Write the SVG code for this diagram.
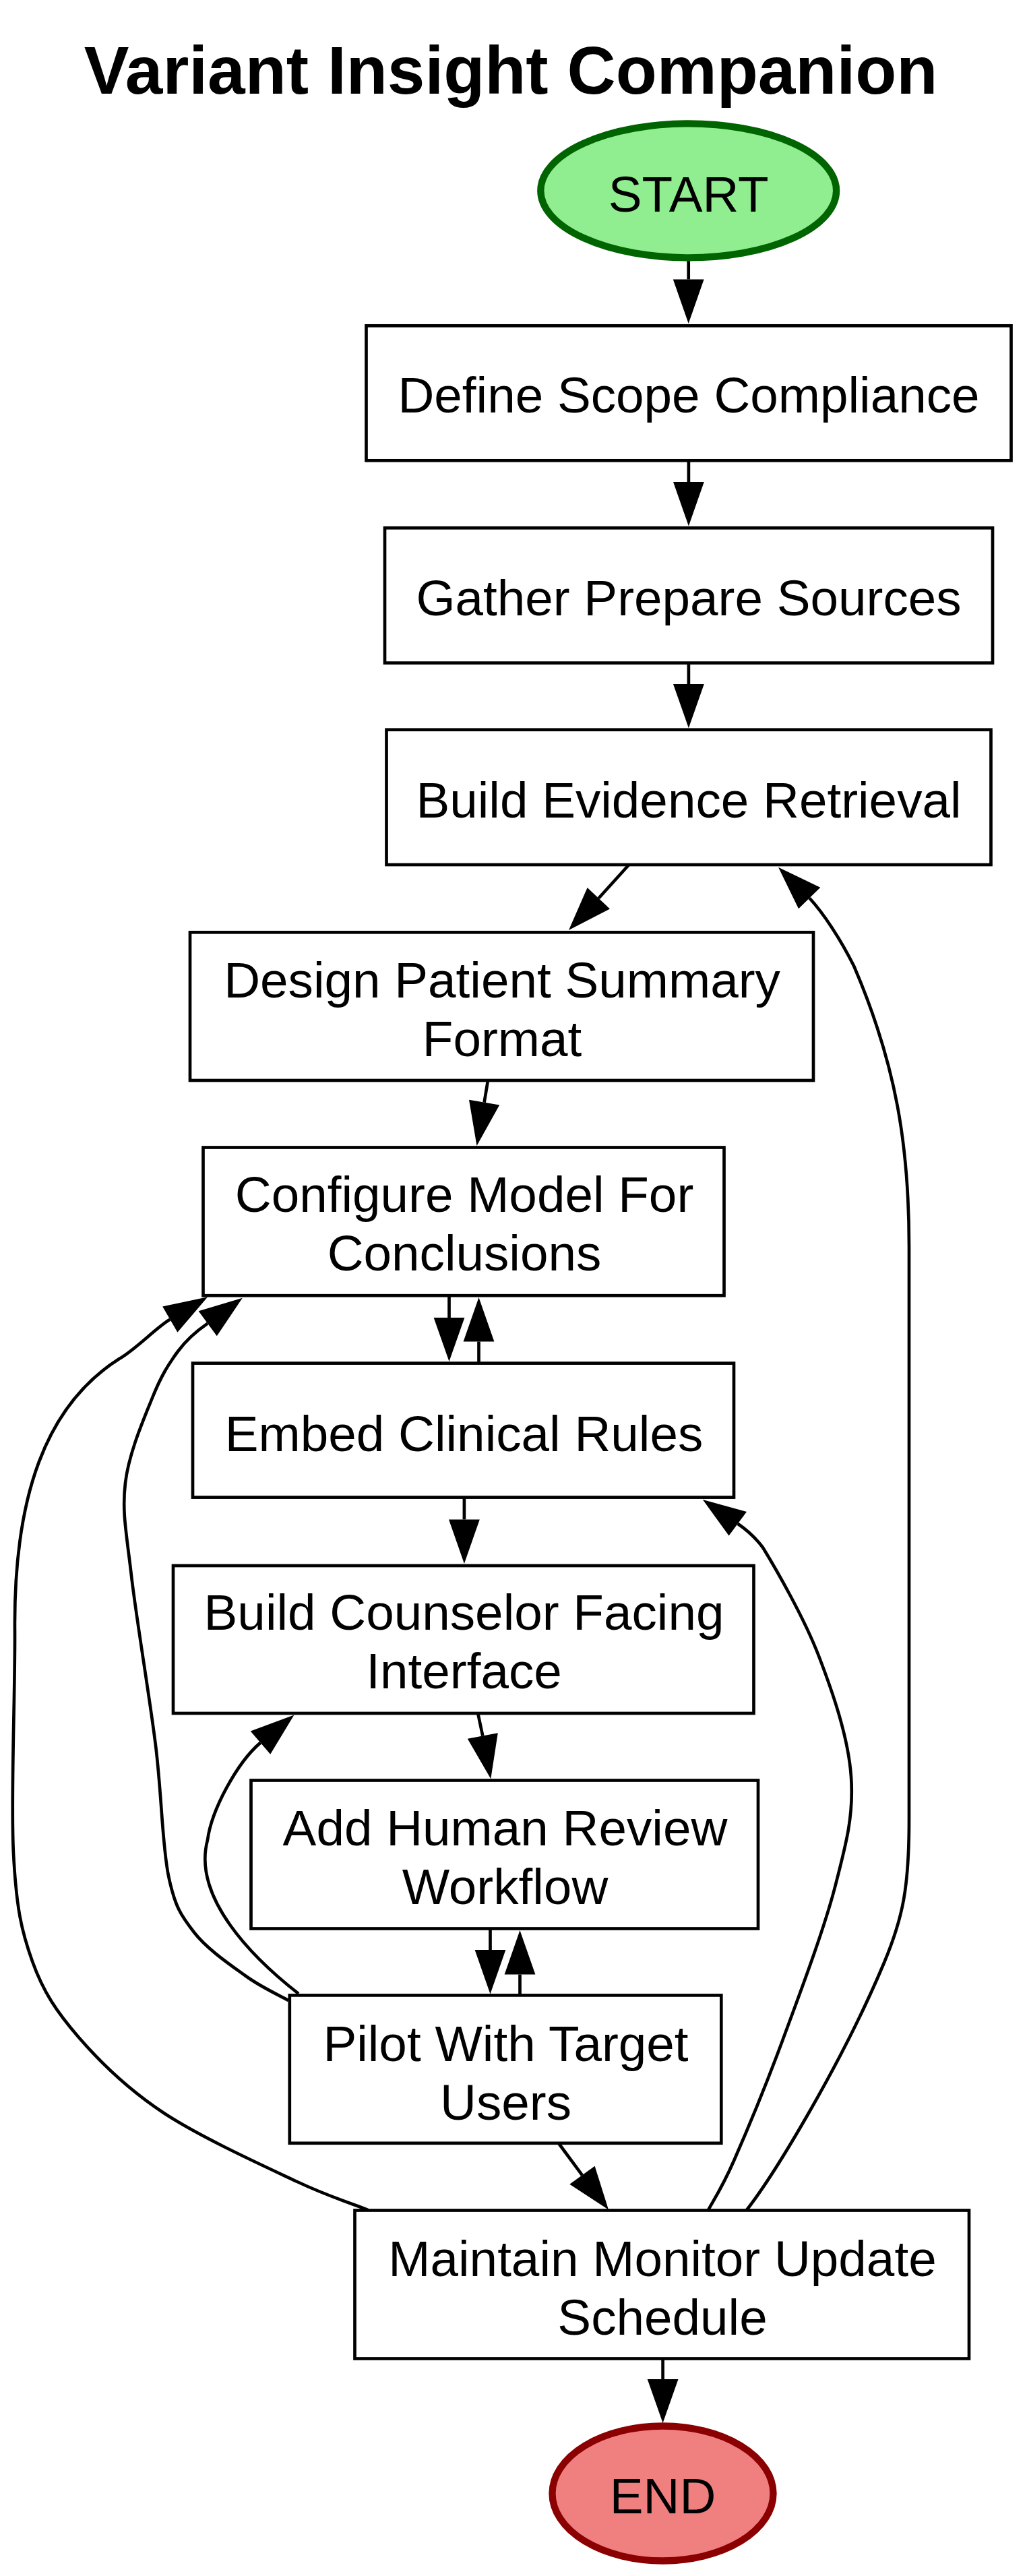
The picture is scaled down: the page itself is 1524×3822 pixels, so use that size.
<svg xmlns="http://www.w3.org/2000/svg" width="1524" height="3822" viewBox="0 0 1524 3822">
<style>
.box{fill:#ffffff;stroke:#000000;stroke-width:4.67}
.lbl{font-family:"Liberation Sans",Arial,sans-serif;font-size:74.67px;text-anchor:middle;fill:#000000}
.title{font-family:"Liberation Sans",Arial,sans-serif;font-size:100px;font-weight:bold;text-anchor:middle;fill:#000000}
.edge{fill:none;stroke:#000000;stroke-width:4.67}
.head{fill:#000000;stroke:none}
</style>
<rect x="0" y="0" width="1524" height="3822" fill="#ffffff"/>
<text class="title" x="758" y="139.3">Variant Insight Companion</text>

<g id="connectors">
  <path class="edge" d="M1021.7,382.4 V414.5"/>
  <polygon class="head" points="998.8,414.5 1044.6,414.5 1021.7,480"/>
  <path class="edge" d="M1021.9,683.3 V715"/>
  <polygon class="head" points="999,715 1044.8,715 1021.9,780.5"/>
  <path class="edge" d="M1021.9,983.6 V1015"/>
  <polygon class="head" points="999,1015 1044.8,1015 1021.9,1080.2"/>
  <path class="edge" d="M933.3,1283 L888.3,1332.8"/>
  <polygon class="head" points="871.6,1317.1 905,1348.5 844,1380"/>
  <path class="edge" d="M724,1603 L718.6,1635.6"/>
  <polygon class="head" points="696,1631.7 741.2,1639.5 707.5,1700"/>
  <path class="edge" d="M666.5,1922.2 V1955"/>
  <polygon class="head" points="643.6,1955 689.4,1955 666.5,2020"/>
  <path class="edge" d="M710.5,2022.6 V1990.5"/>
  <polygon class="head" points="687.6,1990.5 733.4,1990.5 710.5,1925"/>
  <path class="edge" d="M688.9,2221.6 V2254.5"/>
  <polygon class="head" points="666,2254.5 711.8,2254.5 688.9,2320"/>
  <path class="edge" d="M709.2,2542 L716.3,2575.5"/>
  <polygon class="head" points="693.8,2579.7 738.8,2571.3 728.3,2639.2"/>
  <path class="edge" d="M727.5,2861.5 V2893"/>
  <polygon class="head" points="704.6,2893 750.4,2893 727.5,2958.5"/>
  <path class="edge" d="M771.5,2960.4 V2929.5"/>
  <polygon class="head" points="748.6,2929.5 794.4,2929.5 771.5,2864"/>
  <path class="edge" d="M829,3180 L864,3227.3"/>
  <polygon class="head" points="845.3,3240.8 882.6,3213.8 903,3278.6"/>
  <path class="edge" d="M983.6,3499.5 V3530"/>
  <polygon class="head" points="960.7,3530 1006.5,3530 983.6,3595"/>
  <!-- Pilot -> Counselor -->
  <path class="edge" d="M443,2958 C375,2905 285,2815 308,2730 C314,2685 352,2615 386.5,2585.6"/>
  <polygon class="head" points="371.7,2568.4 401.2,2602.8 436.4,2544.6"/>
  <!-- Pilot -> Configure -->
  <path class="edge" d="M428,2968 C417.5,2962 388.3,2948.8 365,2932 C341.7,2915.2 307.2,2891.8 288,2867 C268.8,2842.2 259.5,2829.2 250,2783 C240.5,2736.8 240.2,2664.2 231,2590 C221.8,2515.8 202.5,2403 195,2338 C187.5,2273 180.8,2244 186,2200 C191.2,2156 213,2106.5 226,2074 C239,2041.5 250.3,2023.5 264,2005 C277.7,1986.5 291.9,1974.8 308,1963.7"/>
  <polygon class="head" points="294.6,1945.2 321.8,1982.2 359.8,1925.8"/>
  <!-- Maintain -> Configure -->
  <path class="edge" d="M546,3279 C528.5,3271.2 491.5,3260.8 441,3237 C390.5,3213.2 297,3170.7 243,3135 C189,3099.3 149.5,3060.5 117,3023 C84.5,2985.5 64.2,2955.5 48,2910 C31.8,2864.5 24.3,2831.7 20,2750 C15.7,2668.3 22.5,2520 22,2420 C20,2220 68,2085 177,2016 C201,2002.5 231.8,1969.7 252.3,1957.5"/>
  <polygon class="head" points="241.2,1938.4 263.4,1976.7 308.2,1924.3"/>
  <!-- Maintain -> Embed -->
  <path class="edge" d="M1051,3279 C1057.3,3266.8 1070.7,3247.8 1089,3206 C1107.3,3164.2 1136,3095.7 1161,3028 C1186,2960.3 1222,2865.3 1239,2800 C1256,2734.7 1267,2693.2 1263,2636 C1259,2578.8 1236.8,2513.7 1215,2457 C1193.2,2400.3 1152,2328.7 1132,2296 C1120,2280 1107,2269 1094.8,2260.7"/>
  <polygon class="head" points="1108,2242.9 1081.6,2278.6 1042.8,2225"/>
  <!-- Maintain -> Build Evidence -->
  <path class="edge" d="M1108,3279 C1150,3225 1250,3060 1312,2912 C1340,2845 1349,2800 1349,2700 L1349,1850 C1349,1700 1330,1580 1267,1433 C1247,1393 1222,1355 1201.2,1332.5"/>
  <polygon class="head" points="1185,1348.3 1217.3,1316.7 1155,1286.7"/>
</g>

<g id="start">
  <ellipse cx="1021.7" cy="282.9" rx="219.4" ry="99.5" fill="#90ee90" stroke="#006400" stroke-width="10.3"/>
  <text class="lbl" x="1021.7" y="313.6">START</text>
</g>
<g id="define_scope_compliance">
  <rect class="box" x="543.5" y="483.3" width="957" height="200"/>
  <text class="lbl" x="1022" y="611.5">Define Scope Compliance</text>
</g>
<g id="gather_prepare_sources">
  <rect class="box" x="571" y="783.3" width="902" height="200.3"/>
  <text class="lbl" x="1022" y="913">Gather Prepare Sources</text>
</g>
<g id="build_evidence_retrieval">
  <rect class="box" x="573.5" y="1082.7" width="897" height="200.3"/>
  <text class="lbl" x="1022" y="1212.5">Build Evidence Retrieval</text>
</g>
<g id="design_patient_summary_format">
  <rect class="box" x="282" y="1383.3" width="925" height="219.7"/>
  <text class="lbl" x="745" y="1480">Design Patient Summary</text>
  <text class="lbl" x="745" y="1566.5">Format</text>
</g>
<g id="configure_model_for_conclusions">
  <rect class="box" x="301.5" y="1702.5" width="773" height="219.7"/>
  <text class="lbl" x="689" y="1798">Configure Model For</text>
  <text class="lbl" x="689" y="1885">Conclusions</text>
</g>
<g id="embed_clinical_rules">
  <rect class="box" x="286" y="2022.6" width="803" height="199"/>
  <text class="lbl" x="688.5" y="2152.5">Embed Clinical Rules</text>
</g>
<g id="build_counselor_facing_interface">
  <rect class="box" x="257" y="2323" width="861.5" height="219"/>
  <text class="lbl" x="688.5" y="2418">Build Counselor Facing</text>
  <text class="lbl" x="688.5" y="2505">Interface</text>
</g>
<g id="add_human_review_workflow">
  <rect class="box" x="372.5" y="2641.5" width="752.5" height="220"/>
  <text class="lbl" x="749.5" y="2738">Add Human Review</text>
  <text class="lbl" x="749.5" y="2825">Workflow</text>
</g>
<g id="pilot_with_target_users">
  <rect class="box" x="429.8" y="2960.4" width="640.5" height="219.4"/>
  <text class="lbl" x="750.5" y="3057.5">Pilot With Target</text>
  <text class="lbl" x="750.5" y="3144.5">Users</text>
</g>
<g id="maintain_monitor_update_schedule">
  <rect class="box" x="526.5" y="3279.5" width="911.5" height="220"/>
  <text class="lbl" x="983" y="3376.8">Maintain Monitor Update</text>
  <text class="lbl" x="983" y="3463.6">Schedule</text>
</g>
<g id="end">
  <ellipse cx="983.5" cy="3699.5" rx="164" ry="100" fill="#f08080" stroke="#8b0000" stroke-width="10.3"/>
  <text class="lbl" x="983.5" y="3729.4">END</text>
</g>
</svg>
